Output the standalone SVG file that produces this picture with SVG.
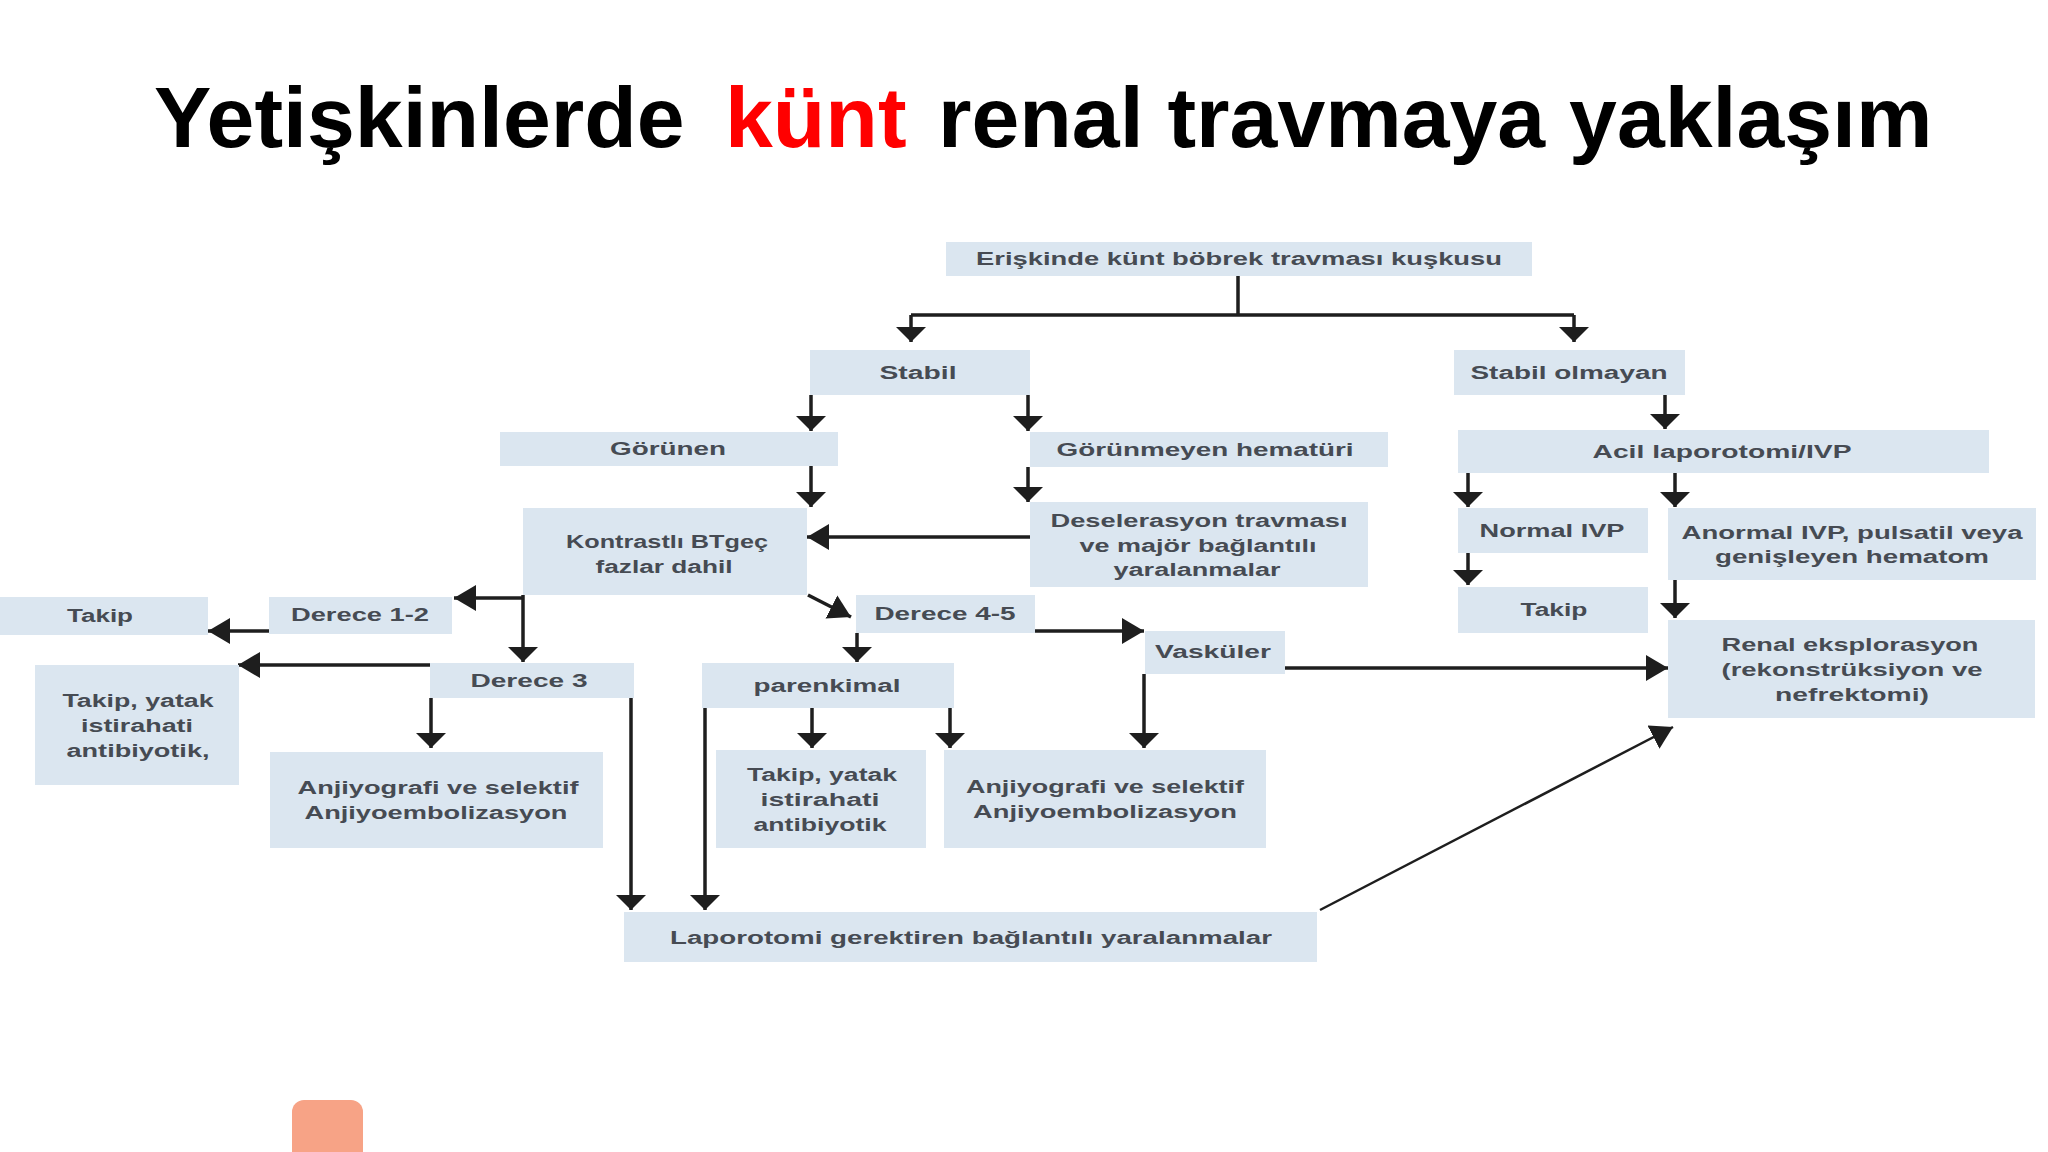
<svg xmlns="http://www.w3.org/2000/svg" width="2048" height="1152" viewBox="0 0 2048 1152">
<defs>
<style>
.box{fill:#dbe6f0}
.t{font-family:"Liberation Sans",Arial,sans-serif;font-weight:bold;font-size:18px;fill:#464b53;text-anchor:middle}
.c{stroke:#1e1e1e;stroke-width:3.5;fill:none}
.title{font-family:"Liberation Sans",Arial,sans-serif;font-weight:bold;font-size:86px}
</style>
<marker id="av" markerUnits="userSpaceOnUse" markerWidth="16" markerHeight="30" refX="15" refY="15" orient="auto"><path d="M0,0 L15,15 L0,30 Z" fill="#1e1e1e"/></marker>
<marker id="ah" markerUnits="userSpaceOnUse" markerWidth="23" markerHeight="26" refX="22" refY="13" orient="auto"><path d="M0,0 L22,13 L0,26 Z" fill="#1e1e1e"/></marker>
</defs>
<rect width="2048" height="1152" fill="#ffffff"/>
<g id="title">
<text class="title" y="147" fill="#000000"><tspan x="154">Yetişkinlerde </tspan><tspan x="725" fill="#ff0000">künt </tspan><tspan x="938">renal travmaya yaklaşım</tspan></text>
</g>
<g id="connectors">
<path class="c" d="M1238,276 V315 M911,315 H1574"/>
<path class="c" d="M911,315 V342" marker-end="url(#av)"/>
<path class="c" d="M1574,315 V342" marker-end="url(#av)"/>
<path class="c" d="M811,395 V431" marker-end="url(#av)"/>
<path class="c" d="M1028,395 V431" marker-end="url(#av)"/>
<path class="c" d="M1665,395 V429" marker-end="url(#av)"/>
<path class="c" d="M811,465 V507" marker-end="url(#av)"/>
<path class="c" d="M1028,467 V502" marker-end="url(#av)"/>
<path class="c" d="M1030,537 H807" marker-end="url(#ah)"/>
<path class="c" d="M523,598 H454" marker-end="url(#ah)"/>
<path class="c" d="M523,595 V662" marker-end="url(#av)"/>
<path class="c" d="M269,631 H208" marker-end="url(#ah)"/>
<path class="c" d="M430,665 H238" marker-end="url(#ah)"/>
<path class="c" d="M808,595 L851,617" marker-end="url(#ah)"/>
<path class="c" d="M857,633 V662" marker-end="url(#av)"/>
<path class="c" d="M1035,631 H1144" marker-end="url(#ah)"/>
<path class="c" d="M431,698 V748" marker-end="url(#av)"/>
<path class="c" d="M631,698 V910" marker-end="url(#av)"/>
<path class="c" d="M705,708 V910" marker-end="url(#av)"/>
<path class="c" d="M812,708 V748" marker-end="url(#av)"/>
<path class="c" d="M950,708 V748" marker-end="url(#av)"/>
<path class="c" d="M1144,674 V748" marker-end="url(#av)"/>
<path class="c" d="M1285,668 H1668" marker-end="url(#ah)"/>
<path class="c" d="M1320,910 L1673,727" marker-end="url(#ah)" style="stroke-width:2.5"/>
<path class="c" d="M1468,473 V507" marker-end="url(#av)"/>
<path class="c" d="M1675,473 V507" marker-end="url(#av)"/>
<path class="c" d="M1468,553 V585" marker-end="url(#av)"/>
<path class="c" d="M1675,580 V618" marker-end="url(#av)"/>
</g>
<g id="n_top"><rect class="box" x="946" y="242" width="586" height="34"/><text class="t" x="1239" y="265" textLength="526" lengthAdjust="spacingAndGlyphs">Erişkinde künt böbrek travması kuşkusu</text></g>
<g id="n_stabil"><rect class="box" x="810" y="350" width="220" height="45"/><text class="t" x="918" y="379" textLength="77" lengthAdjust="spacingAndGlyphs">Stabil</text></g>
<g id="n_stabil_olmayan"><rect class="box" x="1454" y="350" width="231" height="45"/><text class="t" x="1569" y="379" textLength="197" lengthAdjust="spacingAndGlyphs">Stabil olmayan</text></g>
<g id="n_gorunen"><rect class="box" x="500" y="432" width="338" height="34"/><text class="t" x="668" y="455" textLength="116" lengthAdjust="spacingAndGlyphs">Görünen</text></g>
<g id="n_gorunmeyen"><rect class="box" x="1030" y="432" width="358" height="35"/><text class="t" x="1205" y="456" textLength="297" lengthAdjust="spacingAndGlyphs">Görünmeyen hematüri</text></g>
<g id="n_acil"><rect class="box" x="1458" y="430" width="531" height="43"/><text class="t" x="1722" y="458" textLength="259" lengthAdjust="spacingAndGlyphs">Acil laporotomi/IVP</text></g>
<g id="n_kontrastli"><rect class="box" x="523" y="508" width="284" height="87"/><text class="t" x="667" y="548" textLength="202" lengthAdjust="spacingAndGlyphs">Kontrastlı BTgeç</text><text class="t" x="664" y="573" textLength="137" lengthAdjust="spacingAndGlyphs">fazlar dahil</text></g>
<g id="n_deselerasyon"><rect class="box" x="1030" y="502" width="338" height="85"/><text class="t" x="1199" y="527" textLength="297" lengthAdjust="spacingAndGlyphs">Deselerasyon travması</text><text class="t" x="1198" y="552" textLength="237" lengthAdjust="spacingAndGlyphs">ve majör bağlantılı</text><text class="t" x="1197" y="576" textLength="167" lengthAdjust="spacingAndGlyphs">yaralanmalar</text></g>
<g id="n_normal_ivp"><rect class="box" x="1458" y="508" width="190" height="45"/><text class="t" x="1552" y="537" textLength="145" lengthAdjust="spacingAndGlyphs">Normal IVP</text></g>
<g id="n_anormal"><rect class="box" x="1668" y="508" width="368" height="72"/><text class="t" x="1852" y="539" textLength="341" lengthAdjust="spacingAndGlyphs">Anormal IVP, pulsatil veya</text><text class="t" x="1852" y="563" textLength="274" lengthAdjust="spacingAndGlyphs">genişleyen hematom</text></g>
<g id="n_takip_r"><rect class="box" x="1458" y="587" width="190" height="46"/><text class="t" x="1554" y="616" textLength="67" lengthAdjust="spacingAndGlyphs">Takip</text></g>
<g id="n_renal"><rect class="box" x="1668" y="620" width="367" height="98"/><text class="t" x="1850" y="651" textLength="257" lengthAdjust="spacingAndGlyphs">Renal eksplorasyon</text><text class="t" x="1852" y="676" textLength="261" lengthAdjust="spacingAndGlyphs">(rekonstrüksiyon ve</text><text class="t" x="1852" y="701" textLength="154" lengthAdjust="spacingAndGlyphs">nefrektomi)</text></g>
<g id="n_vaskuler"><rect class="box" x="1145" y="631" width="140" height="43"/><text class="t" x="1213" y="658" textLength="116" lengthAdjust="spacingAndGlyphs">Vasküler</text></g>
<g id="n_derece45"><rect class="box" x="856" y="595" width="179" height="38"/><text class="t" x="945" y="620" textLength="141" lengthAdjust="spacingAndGlyphs">Derece 4-5</text></g>
<g id="n_derece12"><rect class="box" x="269" y="597" width="183" height="37"/><text class="t" x="360" y="621" textLength="138" lengthAdjust="spacingAndGlyphs">Derece 1-2</text></g>
<g id="n_takip_l"><rect class="box" x="0" y="597" width="208" height="38"/><text class="t" x="100" y="622" textLength="66" lengthAdjust="spacingAndGlyphs">Takip</text></g>
<g id="n_derece3"><rect class="box" x="430" y="663" width="204" height="35"/><text class="t" x="529" y="687" textLength="117" lengthAdjust="spacingAndGlyphs">Derece 3</text></g>
<g id="n_parenkimal"><rect class="box" x="702" y="663" width="252" height="45"/><text class="t" x="827" y="692" textLength="147" lengthAdjust="spacingAndGlyphs">parenkimal</text></g>
<g id="n_takip_yatak_l"><rect class="box" x="35" y="665" width="204" height="120"/><text class="t" x="138" y="707" textLength="151" lengthAdjust="spacingAndGlyphs">Takip, yatak</text><text class="t" x="137" y="732" textLength="112" lengthAdjust="spacingAndGlyphs">istirahati</text><text class="t" x="138" y="757" textLength="143" lengthAdjust="spacingAndGlyphs">antibiyotik,</text></g>
<g id="n_anjio1"><rect class="box" x="270" y="752" width="333" height="96"/><text class="t" x="438" y="794" textLength="281" lengthAdjust="spacingAndGlyphs">Anjiyografi ve selektif</text><text class="t" x="436" y="819" textLength="263" lengthAdjust="spacingAndGlyphs">Anjiyoembolizasyon</text></g>
<g id="n_takip_yatak_2"><rect class="box" x="716" y="750" width="210" height="98"/><text class="t" x="822" y="781" textLength="150" lengthAdjust="spacingAndGlyphs">Takip, yatak</text><text class="t" x="820" y="806" textLength="119" lengthAdjust="spacingAndGlyphs">istirahati</text><text class="t" x="820" y="831" textLength="133" lengthAdjust="spacingAndGlyphs">antibiyotik</text></g>
<g id="n_anjio2"><rect class="box" x="944" y="750" width="322" height="98"/><text class="t" x="1105" y="793" textLength="278" lengthAdjust="spacingAndGlyphs">Anjiyografi ve selektif</text><text class="t" x="1105" y="818" textLength="264" lengthAdjust="spacingAndGlyphs">Anjiyoembolizasyon</text></g>
<g id="n_laporotomi"><rect class="box" x="624" y="912" width="693" height="50"/><text class="t" x="971" y="944" textLength="602" lengthAdjust="spacingAndGlyphs">Laporotomi gerektiren bağlantılı yaralanmalar</text></g>
<rect x="292" y="1100" width="71" height="70" rx="12" fill="#f7a386"/>
</svg>
